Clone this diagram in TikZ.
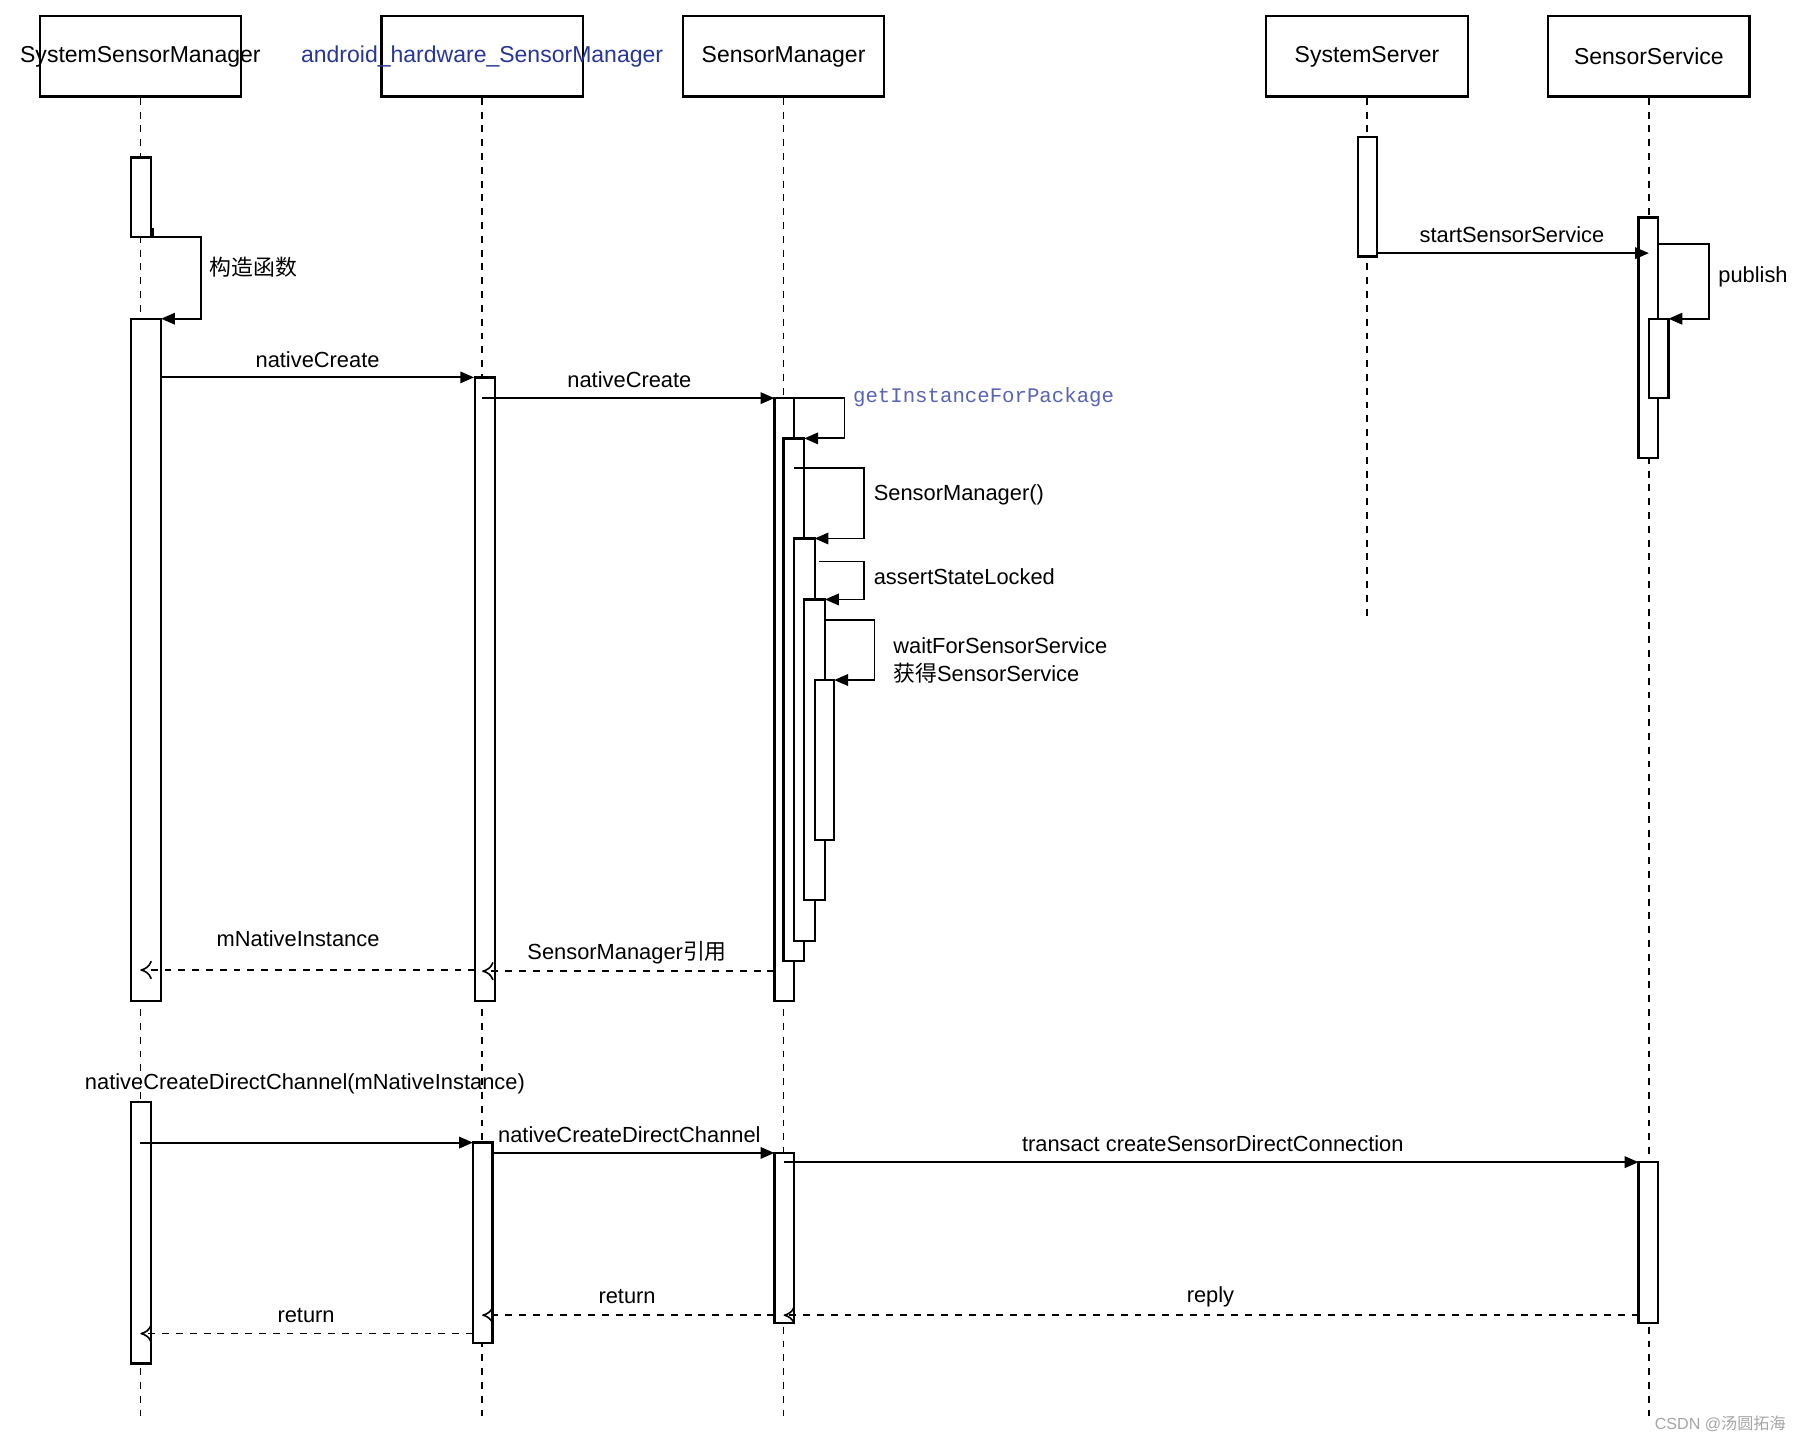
\documentclass[tikz,border=0pt]{standalone}
\usepackage{fontspec}
\setmainfont{Liberation Sans}
\newfontfamily\cjk{Noto Sans CJK SC}
\newfontfamily\mono{Liberation Mono}
\usetikzlibrary{arrows.meta}
\begin{document}
\begin{tikzpicture}[x=0.5pt,y=-0.5pt,
  head/.style={draw,line width=1pt,minimum width=87.5pt,minimum height=35pt,font=\fontsize{10}{12}\selectfont},
  life/.style={dashed,line width=0.7pt},
  act/.style={draw,fill=white,line width=1pt},
  call/.style={line width=0.8pt,-{Triangle[length=6pt,width=5pt]}},
  ret/.style={dashed,line width=0.7pt,-{To[length=5pt,width=8pt]}},
  lbl/.style={font=\fontsize{9.5}{11}\selectfont,inner sep=1pt}]
\useasboundingbox (0,0) rectangle (1560,1246);
\fill[white] (0,0) rectangle (1560,1246);
% heads
\node[head] (h1) at (122,49) {};
\node[head] (h2) at (419,49) {};
\node[head] (h3) at (681,49) {};
\node[head] (h4) at (1188,49) {};
\node[head] (h5) at (1433,49) {};
\node[lbl,font=\fontsize{10}{12}\selectfont] (t1) at (122,49) {SystemSensorManager};
\node[lbl,font=\fontsize{10}{12}\selectfont,text={rgb,255:red,40;green,55;blue,150}] (t2) at (419,49) {android\_hardware\_SensorManager};
\node[lbl,font=\fontsize{10}{12}\selectfont] (t3) at (681,49) {SensorManager};
\node[lbl,font=\fontsize{10}{12}\selectfont] (t4) at (1188,49) {SystemServer};
\node[lbl,font=\fontsize{10}{12}\selectfont] (t5) at (1433,49) {SensorService};
% lifelines
\coordinate (e1) at (122,1232); \coordinate (e2) at (419,1232); \coordinate (e3) at (681,1232);
\coordinate (e4) at (1188,540); \coordinate (e5) at (1433,1232);
\foreach \i in {1,...,5} \draw[life] (h\i.south) -- (e\i);
% activations
\draw[act] (114,137) rectangle (131,206);
\draw[act] (114,277) rectangle (140,870);
\draw[act] (114,958) rectangle (131,1185);
\draw[act] (413,328) rectangle (430,870);
\draw[act] (411,993) rectangle (428,1167);
\draw[act] (673,346) rectangle (690,870);
\draw[act] (681,381) rectangle (699,835);
\draw[act] (690,468) rectangle (708,818);
\draw[act] (699,521) rectangle (717,782);
\draw[act] (708,591) rectangle (725,730);
\draw[act] (673,1002) rectangle (690,1150);
\draw[act] (1180,119) rectangle (1197,223);
\draw[act] (1424,189) rectangle (1441,398);
\draw[act] (1433,277) rectangle (1450,346);
\draw[act] (1424,1010) rectangle (1441,1150);
% self loops
\draw[call] (133,198) -- (133,206) -- (175,206) -- (175,277) -- (140,277);
\node[lbl,anchor=west,font=\cjk\fontsize{9.5}{11}\selectfont] (l0) at (180,232) {构造函数};
\draw[call] (690,346) -- (734,346) -- (734,381) -- (699,381);
\node[lbl,anchor=west,font=\mono\fontsize{9}{11}\selectfont,text={rgb,255:red,90;green,100;blue,180}] (l1) at (739,345) {getInstanceForPackage};
\draw[call] (690,407) -- (751,407) -- (751,468) -- (708,468);
\node[lbl,anchor=west] (l2) at (757,430) {SensorManager()};
\draw[call] (712,488) -- (751,488) -- (751,521) -- (717,521);
\node[lbl,anchor=west] (l3) at (757,501) {assertStateLocked};
\draw[call] (717,539) -- (760,539) -- (760,591) -- (725,591);
\node[lbl,anchor=west] (l4) at (774,561) {waitForSensorService};
\node[lbl,anchor=west] (l5) at (774,585) {\cjk 获得\rmfamily SensorService};
\draw[call] (1441,212) -- (1485,212) -- (1485,277) -- (1450,277);
\node[lbl,anchor=west] (l6) at (1491,241) {publish};
% messages
\draw[call] (140,328) -- (412,328);
\node[lbl] at (276,313) {nativeCreate};
\draw[call] (419,346) -- (673,346);
\node[lbl] at (547,330) {nativeCreate};
\draw[ret] (413,843) -- (122,843);
\node[lbl] at (259,816) {mNativeInstance};
\draw[ret] (673,844) -- (419,844);
\node[lbl] at (545,828) {SensorManager\cjk 引用};
\draw[call] (1197,220) -- (1433,220);
\node[lbl] at (1314,204) {startSensorService};
\node[lbl] at (265,942) {nativeCreateDirectChannel(mNativeInstance)};
\draw[call] (122,993) -- (411,993);
\draw[call] (428,1002) -- (673,1002);
\node[lbl] at (547,986) {nativeCreateDirectChannel};
\draw[call] (681,1010) -- (1424,1010);
\node[lbl] at (1054,994) {transact createSensorDirectConnection};
\draw[ret] (1424,1143) -- (681,1143);
\node[lbl] at (1052,1127) {reply};
\draw[ret] (673,1143) -- (419,1143);
\node[lbl] at (545,1127) {return};
\draw[ret] (411,1159) -- (122,1159);
\node[lbl] at (266,1143) {return};
\node[lbl,text=gray!70,font=\fontsize{7}{8}\selectfont] at (1495,1237) {CSDN @\cjk 汤圆拓海};
\end{tikzpicture}
\end{document}
